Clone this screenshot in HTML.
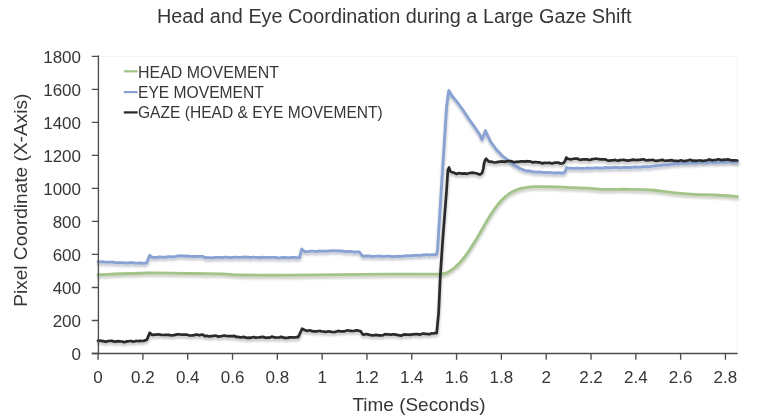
<!DOCTYPE html>
<html><head><meta charset="utf-8"><style>
html,body{margin:0;padding:0;background:#fff;overflow:hidden;width:768px;height:419px;}
svg{display:block;will-change:transform;}
text{font-family:"Liberation Sans",sans-serif;fill:#363636;}
.tk{font-size:17px;}
.ti{font-size:20px;}
.at{font-size:19px;}
.lg{font-size:15.6px;}
</style></head><body>
<svg width="768" height="419" viewBox="0 0 768 419">
<defs><filter id="blur" x="-5%" y="-20%" width="110%" height="140%"><feGaussianBlur stdDeviation="1.2"/></filter></defs>
<rect width="768" height="419" fill="#fff"/>
<path d="M98,56.3 H737.5 V353.5" fill="none" stroke="#f4f4f4" stroke-width="1"/>
<path d="M98.00,274.70 C106.17,274.42 130.83,273.20 147.00,273.00 C163.17,272.80 182.50,273.37 195.00,273.50 C207.50,273.63 214.17,273.55 222.00,273.80 C229.83,274.05 230.67,274.77 242.00,275.00 C253.33,275.23 266.17,275.35 290.00,275.20 C313.83,275.05 360.83,274.28 385.00,274.10 C409.17,273.92 425.58,274.15 435.00,274.10 C444.42,274.05 439.67,273.97 441.50,273.80 C443.33,273.63 444.75,273.46 446.00,273.08 C447.25,272.69 448.00,272.08 449.00,271.49 C450.00,270.90 451.00,270.25 452.00,269.54 C453.00,268.83 454.00,268.05 455.00,267.20 C456.00,266.35 457.00,265.44 458.00,264.45 C459.00,263.46 460.00,262.39 461.00,261.26 C462.00,260.13 463.00,258.93 464.00,257.66 C465.00,256.39 466.00,255.05 467.00,253.65 C468.00,252.25 469.00,250.79 470.00,249.28 C471.00,247.77 472.00,246.20 473.00,244.60 C474.00,243.00 475.00,241.36 476.00,239.70 C477.00,238.04 478.00,236.37 479.00,234.66 C480.00,232.95 481.00,231.19 482.00,229.44 C483.00,227.69 484.00,225.89 485.00,224.16 C486.00,222.43 487.00,220.71 488.00,219.05 C489.00,217.39 490.00,215.76 491.00,214.20 C492.00,212.64 493.00,211.13 494.00,209.70 C495.00,208.27 496.00,206.90 497.00,205.61 C498.00,204.32 499.00,203.10 500.00,201.97 C501.00,200.84 502.00,199.78 503.00,198.80 C504.00,197.82 505.00,196.93 506.00,196.10 C507.00,195.27 508.00,194.53 509.00,193.84 C510.00,193.16 511.00,192.55 512.00,191.99 C513.00,191.44 514.00,190.95 515.00,190.51 C516.00,190.07 517.00,189.70 518.00,189.36 C519.00,189.02 520.00,188.73 521.00,188.47 C522.00,188.21 523.00,187.99 524.00,187.80 C525.00,187.61 526.00,187.45 527.00,187.31 C528.00,187.17 529.00,187.06 530.00,186.96 C531.00,186.86 531.88,186.75 533.00,186.71 C534.12,186.67 534.70,186.72 536.70,186.70 C538.70,186.68 541.33,186.57 545.00,186.60 C548.67,186.63 554.03,186.73 558.70,186.90 C563.37,187.07 568.23,187.38 573.00,187.60 C577.77,187.82 582.53,187.92 587.30,188.20 C592.07,188.48 596.82,189.12 601.60,189.30 C606.38,189.48 611.27,189.30 616.00,189.30 C620.73,189.30 624.08,189.18 630.00,189.30 C635.92,189.42 644.33,189.45 651.50,190.00 C658.67,190.55 665.83,191.88 673.00,192.60 C680.17,193.32 687.33,193.90 694.50,194.30 C701.67,194.70 708.87,194.63 716.00,195.00 C723.13,195.37 733.75,196.25 737.30,196.50" fill="none" stroke="#7d8a70" stroke-width="3.5" stroke-linejoin="round" stroke-linecap="round" transform="translate(0.3,2.3)" filter="url(#blur)" opacity="0.38"/>
<polyline points="98.0,261.7 99.5,261.9 101.1,261.8 102.6,261.6 104.1,261.9 105.7,262.1 107.2,262.1 108.7,262.2 110.3,262.1 111.8,261.9 113.3,262.2 114.9,262.5 116.4,262.6 117.9,262.7 119.5,262.6 121.0,262.6 122.5,262.6 124.1,262.8 125.7,262.8 127.2,262.9 128.8,262.8 130.3,262.5 131.8,262.6 133.4,262.9 135.0,263.0 136.5,263.1 138.1,263.1 139.6,262.9 141.2,263.0 142.7,263.3 144.2,263.2 145.8,263.2 147.0,262.0 149.7,255.2 152.3,257.4 153.9,257.3 155.5,257.4 157.1,257.3 158.7,256.9 160.3,257.0 161.9,257.2 163.4,257.2 165.0,257.2 166.6,257.0 168.2,256.7 169.8,256.7 171.4,256.8 173.0,256.7 174.6,256.6 176.2,256.3 177.8,255.8 179.4,255.8 181.0,255.7 182.6,255.8 184.1,256.1 185.7,256.0 187.2,255.9 188.8,256.1 190.3,256.3 191.9,256.4 193.4,256.5 195.0,256.5 196.6,256.3 198.2,256.3 199.8,256.3 201.4,256.3 203.0,256.3 205.0,257.6 206.5,257.5 208.1,257.6 209.6,257.6 211.2,257.7 212.7,257.8 214.2,257.5 215.8,257.3 217.3,257.4 218.9,257.4 220.4,257.5 222.0,257.6 223.5,257.3 225.0,257.1 226.6,257.2 228.1,257.3 229.7,257.4 231.2,257.6 232.8,257.4 234.3,257.2 235.8,257.2 237.4,257.3 238.9,257.3 240.5,257.3 242.0,257.2 243.5,257.1 245.0,257.0 246.5,257.1 248.0,257.2 249.5,257.4 251.0,257.5 252.5,257.2 254.0,257.2 255.5,257.3 257.0,257.3 258.5,257.5 260.0,257.7 261.5,257.4 263.0,257.2 264.5,257.3 266.0,257.3 267.5,257.4 269.0,257.6 270.5,257.4 272.0,257.2 273.5,257.3 275.0,257.4 276.5,257.5 278.0,257.8 279.5,257.8 281.0,257.5 282.5,257.5 284.0,257.5 285.5,257.5 287.0,257.7 288.5,257.7 290.0,257.6 291.6,257.5 293.2,257.4 294.8,257.4 296.3,257.7 297.9,257.7 299.5,257.6 301.7,249.0 304.5,251.5 306.0,251.6 307.5,251.7 309.0,251.3 310.5,251.2 312.0,251.2 313.5,251.1 315.0,251.3 316.5,251.5 318.0,251.2 319.5,251.0 321.0,251.1 322.5,251.1 324.0,251.1 325.5,251.2 327.0,251.2 328.5,250.9 330.0,250.8 331.5,250.7 333.0,250.7 334.5,250.7 336.1,250.8 337.6,250.7 339.2,250.8 340.8,250.8 342.3,251.0 343.9,251.4 345.4,251.5 347.0,251.3 348.6,251.4 350.1,251.5 351.7,251.5 353.2,251.9 354.8,252.0 356.4,251.8 357.9,251.9 359.5,252.0 362.5,256.0 364.0,256.1 365.5,256.0 367.0,256.0 368.5,256.0 370.0,256.0 371.5,256.3 373.0,256.5 374.5,256.3 376.0,256.2 377.5,256.1 379.0,256.0 380.5,256.2 382.0,256.4 383.5,256.3 385.0,256.3 386.6,256.2 388.2,256.1 389.8,256.2 391.4,256.6 392.9,256.5 394.5,256.3 396.1,256.3 397.7,256.2 399.3,256.3 400.9,256.3 402.5,256.2 404.0,256.0 405.6,255.8 407.2,255.6 408.8,255.7 410.4,255.9 411.9,255.7 413.5,255.5 415.1,255.4 416.7,255.2 418.3,255.3 419.8,255.5 421.4,255.2 423.0,255.0 424.5,254.9 426.0,254.7 427.5,254.7 429.0,255.0 430.5,254.9 432.0,254.7 433.5,254.7 435.0,254.6 436.5,254.7 437.6,249.0 442.2,175.0 446.6,106.5 448.8,90.4 452.2,96.3 456.9,101.7 462.9,110.0 468.9,119.0 474.8,127.3 479.6,134.2 481.9,139.5 485.5,130.5 488.0,136.5 490.5,141.5 496.5,149.8 502.4,155.8 507.2,159.6 514.4,165.3 520.0,168.5 521.7,169.0 523.3,169.9 525.0,170.5 526.6,170.8 528.2,171.0 529.9,171.0 531.5,171.4 533.1,171.8 534.7,171.9 536.4,172.1 538.1,172.0 539.9,171.9 541.6,172.3 543.3,172.4 545.0,172.5 546.5,172.6 548.1,172.4 549.6,172.4 551.2,172.7 552.7,172.9 554.2,172.9 555.8,173.0 557.3,172.8 558.9,172.7 560.4,173.0 562.0,173.0 563.5,173.0 564.8,172.0 566.6,167.6 567.8,168.2 569.3,168.1 570.8,168.2 572.3,168.3 573.9,168.4 575.4,168.3 576.9,168.0 578.4,168.1 579.9,168.4 581.5,168.3 583.0,168.4 584.5,168.3 586.0,168.2 587.5,168.0 589.1,168.1 590.6,168.1 592.1,168.1 593.6,168.1 595.2,167.8 596.7,167.7 598.2,168.0 599.8,168.0 601.3,168.0 602.8,168.1 604.4,167.7 605.9,167.5 607.4,167.7 608.9,167.7 610.5,167.7 612.0,167.6 613.5,167.5 615.1,167.2 616.6,167.4 618.1,167.5 619.6,167.6 621.2,167.7 622.7,167.5 624.2,167.2 625.8,167.4 627.3,167.5 628.8,167.4 630.4,167.5 631.9,167.4 633.4,167.0 634.9,167.0 636.5,167.2 638.0,167.2 639.6,167.2 641.2,167.1 642.9,166.6 644.5,166.7 646.1,166.7 647.8,166.6 649.4,166.6 651.0,166.3 652.5,166.1 654.0,165.9 655.5,165.8 657.0,165.7 658.5,165.6 660.0,165.4 661.6,165.1 663.3,164.9 664.9,164.8 666.5,164.7 668.2,164.8 669.8,164.5 671.4,164.0 673.1,164.0 674.7,163.8 676.2,163.8 677.8,163.9 679.4,163.6 680.9,163.2 682.5,163.2 684.0,163.2 685.6,163.3 687.1,163.4 688.6,163.2 690.2,162.9 691.8,162.9 693.3,162.9 694.9,162.9 696.4,163.1 698.0,162.8 699.5,162.6 701.0,162.5 702.6,162.4 704.1,162.4 705.7,162.6 707.2,162.5 708.8,162.2 710.4,162.2 711.9,162.3 713.4,162.3 715.0,162.6 716.5,162.5 718.1,162.2 719.6,162.1 721.2,162.1 722.8,162.1 724.3,162.1 725.9,162.2 727.5,161.9 729.2,161.9 730.8,161.9 732.4,162.0 734.0,162.3 735.7,162.2 737.3,162.1" fill="none" stroke="#707a90" stroke-width="3.5" stroke-linejoin="round" stroke-linecap="round" transform="translate(0.3,2.3)" filter="url(#blur)" opacity="0.38"/>
<polyline points="98.0,340.6 99.7,340.7 101.3,340.9 103.0,341.1 104.5,341.4 106.0,341.8 107.5,341.2 109.0,341.0 110.5,340.9 112.0,340.8 113.5,341.4 115.0,341.8 116.5,341.3 118.0,341.1 119.5,341.3 121.0,341.5 122.5,341.5 124.0,342.2 125.5,341.9 127.0,341.4 128.5,341.3 130.0,341.0 131.5,341.0 133.0,341.7 134.5,341.5 136.0,340.9 137.5,341.0 139.0,341.1 140.5,340.7 142.0,341.0 143.5,340.9 145.0,340.4 147.0,339.6 149.7,332.8 151.8,334.6 153.5,334.9 155.1,334.6 156.8,334.6 158.4,334.2 160.0,334.7 161.7,334.9 163.4,335.0 165.0,334.9 166.7,334.9 168.3,334.9 170.0,335.2 171.7,335.5 173.5,335.2 175.2,334.9 176.9,334.4 178.7,334.4 180.4,334.5 181.9,334.7 183.4,334.6 184.9,334.7 186.5,334.5 188.0,335.0 189.5,335.4 191.1,335.5 192.8,335.3 194.4,335.2 196.0,334.6 197.6,334.7 199.2,335.3 200.9,334.8 202.5,334.5 205.0,336.1 206.5,335.7 208.0,336.1 209.5,336.4 211.0,336.1 212.5,336.1 214.0,335.8 215.5,335.5 217.0,336.1 218.5,336.6 220.0,336.3 221.5,336.1 223.0,335.8 224.5,335.5 226.0,335.8 227.7,336.1 229.3,336.2 231.0,336.2 232.7,336.2 234.4,335.9 236.0,336.8 237.7,336.9 239.3,337.2 240.9,337.4 242.6,337.1 244.2,336.9 245.8,337.7 247.4,337.9 249.1,337.7 250.7,337.8 252.4,337.3 254.1,337.0 255.8,337.7 257.6,337.5 259.3,337.4 261.0,337.1 262.5,336.9 264.1,337.2 265.6,337.8 267.2,337.6 268.7,337.6 270.3,337.3 271.8,336.7 273.4,337.0 274.9,337.6 276.5,337.5 278.0,337.5 279.6,337.4 281.2,336.9 282.9,337.4 284.5,337.9 286.1,337.8 287.8,337.9 289.4,337.4 291.0,337.4 292.8,337.4 294.6,337.5 296.4,337.2 298.2,337.1 302.1,328.7 305.4,330.4 307.1,330.8 308.7,330.5 310.4,330.4 312.0,331.2 313.7,331.4 315.3,331.3 317.0,331.3 318.6,331.0 320.2,330.9 321.9,331.5 323.5,331.5 325.1,331.8 326.8,331.6 328.4,331.3 330.0,331.7 331.6,331.9 333.2,332.0 334.9,332.1 336.5,331.5 338.1,330.9 339.8,331.3 341.4,331.4 343.0,331.3 344.6,331.3 346.2,330.7 347.9,330.3 349.5,330.8 351.1,330.9 352.8,331.0 354.4,330.8 356.0,330.4 357.5,330.4 359.0,330.9 360.5,331.0 362.8,334.5 364.5,334.6 366.1,334.0 367.8,334.4 369.5,334.9 371.2,335.1 372.8,335.3 374.5,335.2 376.0,334.9 377.5,335.1 379.0,335.3 380.5,335.3 382.0,335.5 383.5,334.9 385.0,334.1 386.5,334.3 388.0,334.5 389.5,334.4 391.0,334.7 392.5,334.4 394.0,334.3 396.0,334.6 398.0,335.2 399.6,335.3 401.1,335.7 402.7,335.0 404.2,334.4 405.8,334.7 407.4,334.7 408.9,334.7 410.5,334.9 412.0,334.3 413.6,334.3 415.2,334.1 416.8,334.0 418.5,334.3 420.1,334.6 421.7,333.9 423.3,333.5 424.9,333.9 426.5,333.9 428.1,334.1 429.8,334.2 431.4,333.4 433.0,333.5 434.9,333.1 436.7,333.0 438.7,311.8 440.3,275.9 442.7,240.0 446.6,190.0 447.9,169.8 449.0,167.5 450.2,171.1 451.5,172.0 454.1,172.7 456.7,174.0 459.3,173.0 461.9,173.7 464.5,173.3 467.1,173.8 469.7,173.0 472.3,172.7 474.9,173.0 477.6,173.7 479.8,174.6 482.1,173.0 483.4,168.5 484.1,163.3 485.0,160.5 486.1,158.6 488.8,161.6 490.4,161.6 492.1,161.8 493.7,162.3 495.4,162.5 497.0,162.2 498.5,161.9 500.0,161.7 501.5,161.4 503.0,161.6 504.5,161.9 506.0,161.4 507.5,161.2 509.0,161.1 510.5,161.1 512.0,161.4 513.5,162.2 515.0,162.2 516.5,161.7 518.0,161.8 519.6,161.6 521.2,161.4 522.8,161.3 524.5,161.6 526.1,161.2 527.8,161.3 529.5,161.3 531.2,161.8 532.8,162.4 534.5,162.2 536.1,162.2 537.8,162.3 539.4,162.3 541.0,162.9 542.7,163.4 544.3,162.9 546.0,162.8 547.6,163.0 549.2,162.7 550.8,163.1 552.4,163.4 554.0,162.8 555.5,162.7 557.1,162.7 558.7,162.7 560.3,163.5 561.9,163.4 563.5,163.0 565.0,161.0 566.3,157.6 568.0,158.9 569.5,159.0 571.0,159.5 572.5,159.0 574.0,158.7 575.5,158.7 577.0,158.6 578.5,159.1 580.0,159.8 581.5,159.6 583.0,159.3 584.5,159.4 586.0,159.4 587.6,159.4 589.2,160.0 590.9,159.6 592.5,159.1 594.1,159.0 595.8,158.5 597.4,159.0 599.0,159.1 600.6,159.3 602.2,159.3 603.9,159.4 605.5,159.4 607.1,160.2 608.8,160.8 610.4,160.4 612.0,160.4 613.6,160.2 615.2,159.9 616.9,160.5 618.5,160.6 620.1,160.1 621.8,160.0 623.4,159.9 625.0,160.2 626.6,160.4 628.2,160.6 629.9,160.2 631.5,160.1 633.1,159.6 634.8,159.8 636.4,160.2 638.0,159.8 639.5,159.8 641.0,159.7 642.5,159.3 644.0,159.4 645.5,160.2 647.0,160.3 648.5,160.1 650.0,160.1 651.5,160.0 653.1,159.8 654.6,160.7 656.2,160.9 657.7,160.6 659.3,160.5 660.8,160.1 662.4,159.8 663.9,160.5 665.4,160.8 667.0,160.5 668.5,160.6 670.1,160.3 671.6,160.1 673.2,160.8 674.7,160.8 676.2,160.9 677.8,161.1 679.4,160.7 680.9,160.3 682.5,160.8 684.0,161.1 685.6,160.8 687.1,160.7 688.6,160.3 690.2,159.8 691.8,160.4 693.3,160.9 694.9,160.7 696.4,160.8 698.0,160.5 699.5,160.5 701.0,160.4 702.6,161.0 704.1,160.7 705.7,160.5 707.2,160.2 708.8,159.5 710.4,159.7 711.9,160.3 713.4,160.1 715.0,160.0 716.5,159.8 718.1,159.2 719.6,159.5 721.2,160.2 722.8,159.9 724.3,159.6 725.9,159.8 727.5,159.4 729.2,159.7 730.8,160.3 732.4,160.3 734.0,160.4 735.7,160.3 737.3,160.5" fill="none" stroke="#777" stroke-width="3.5" stroke-linejoin="round" stroke-linecap="round" transform="translate(0.3,2.3)" filter="url(#blur)" opacity="0.38"/>
<path d="M98.00,274.70 C106.17,274.42 130.83,273.20 147.00,273.00 C163.17,272.80 182.50,273.37 195.00,273.50 C207.50,273.63 214.17,273.55 222.00,273.80 C229.83,274.05 230.67,274.77 242.00,275.00 C253.33,275.23 266.17,275.35 290.00,275.20 C313.83,275.05 360.83,274.28 385.00,274.10 C409.17,273.92 425.58,274.15 435.00,274.10 C444.42,274.05 439.67,273.97 441.50,273.80 C443.33,273.63 444.75,273.46 446.00,273.08 C447.25,272.69 448.00,272.08 449.00,271.49 C450.00,270.90 451.00,270.25 452.00,269.54 C453.00,268.83 454.00,268.05 455.00,267.20 C456.00,266.35 457.00,265.44 458.00,264.45 C459.00,263.46 460.00,262.39 461.00,261.26 C462.00,260.13 463.00,258.93 464.00,257.66 C465.00,256.39 466.00,255.05 467.00,253.65 C468.00,252.25 469.00,250.79 470.00,249.28 C471.00,247.77 472.00,246.20 473.00,244.60 C474.00,243.00 475.00,241.36 476.00,239.70 C477.00,238.04 478.00,236.37 479.00,234.66 C480.00,232.95 481.00,231.19 482.00,229.44 C483.00,227.69 484.00,225.89 485.00,224.16 C486.00,222.43 487.00,220.71 488.00,219.05 C489.00,217.39 490.00,215.76 491.00,214.20 C492.00,212.64 493.00,211.13 494.00,209.70 C495.00,208.27 496.00,206.90 497.00,205.61 C498.00,204.32 499.00,203.10 500.00,201.97 C501.00,200.84 502.00,199.78 503.00,198.80 C504.00,197.82 505.00,196.93 506.00,196.10 C507.00,195.27 508.00,194.53 509.00,193.84 C510.00,193.16 511.00,192.55 512.00,191.99 C513.00,191.44 514.00,190.95 515.00,190.51 C516.00,190.07 517.00,189.70 518.00,189.36 C519.00,189.02 520.00,188.73 521.00,188.47 C522.00,188.21 523.00,187.99 524.00,187.80 C525.00,187.61 526.00,187.45 527.00,187.31 C528.00,187.17 529.00,187.06 530.00,186.96 C531.00,186.86 531.88,186.75 533.00,186.71 C534.12,186.67 534.70,186.72 536.70,186.70 C538.70,186.68 541.33,186.57 545.00,186.60 C548.67,186.63 554.03,186.73 558.70,186.90 C563.37,187.07 568.23,187.38 573.00,187.60 C577.77,187.82 582.53,187.92 587.30,188.20 C592.07,188.48 596.82,189.12 601.60,189.30 C606.38,189.48 611.27,189.30 616.00,189.30 C620.73,189.30 624.08,189.18 630.00,189.30 C635.92,189.42 644.33,189.45 651.50,190.00 C658.67,190.55 665.83,191.88 673.00,192.60 C680.17,193.32 687.33,193.90 694.50,194.30 C701.67,194.70 708.87,194.63 716.00,195.00 C723.13,195.37 733.75,196.25 737.30,196.50" fill="none" stroke="#A3C488" stroke-width="2.8" stroke-linejoin="round" stroke-linecap="round"/>
<polyline points="98.0,261.7 99.5,261.9 101.1,261.8 102.6,261.6 104.1,261.9 105.7,262.1 107.2,262.1 108.7,262.2 110.3,262.1 111.8,261.9 113.3,262.2 114.9,262.5 116.4,262.6 117.9,262.7 119.5,262.6 121.0,262.6 122.5,262.6 124.1,262.8 125.7,262.8 127.2,262.9 128.8,262.8 130.3,262.5 131.8,262.6 133.4,262.9 135.0,263.0 136.5,263.1 138.1,263.1 139.6,262.9 141.2,263.0 142.7,263.3 144.2,263.2 145.8,263.2 147.0,262.0 149.7,255.2 152.3,257.4 153.9,257.3 155.5,257.4 157.1,257.3 158.7,256.9 160.3,257.0 161.9,257.2 163.4,257.2 165.0,257.2 166.6,257.0 168.2,256.7 169.8,256.7 171.4,256.8 173.0,256.7 174.6,256.6 176.2,256.3 177.8,255.8 179.4,255.8 181.0,255.7 182.6,255.8 184.1,256.1 185.7,256.0 187.2,255.9 188.8,256.1 190.3,256.3 191.9,256.4 193.4,256.5 195.0,256.5 196.6,256.3 198.2,256.3 199.8,256.3 201.4,256.3 203.0,256.3 205.0,257.6 206.5,257.5 208.1,257.6 209.6,257.6 211.2,257.7 212.7,257.8 214.2,257.5 215.8,257.3 217.3,257.4 218.9,257.4 220.4,257.5 222.0,257.6 223.5,257.3 225.0,257.1 226.6,257.2 228.1,257.3 229.7,257.4 231.2,257.6 232.8,257.4 234.3,257.2 235.8,257.2 237.4,257.3 238.9,257.3 240.5,257.3 242.0,257.2 243.5,257.1 245.0,257.0 246.5,257.1 248.0,257.2 249.5,257.4 251.0,257.5 252.5,257.2 254.0,257.2 255.5,257.3 257.0,257.3 258.5,257.5 260.0,257.7 261.5,257.4 263.0,257.2 264.5,257.3 266.0,257.3 267.5,257.4 269.0,257.6 270.5,257.4 272.0,257.2 273.5,257.3 275.0,257.4 276.5,257.5 278.0,257.8 279.5,257.8 281.0,257.5 282.5,257.5 284.0,257.5 285.5,257.5 287.0,257.7 288.5,257.7 290.0,257.6 291.6,257.5 293.2,257.4 294.8,257.4 296.3,257.7 297.9,257.7 299.5,257.6 301.7,249.0 304.5,251.5 306.0,251.6 307.5,251.7 309.0,251.3 310.5,251.2 312.0,251.2 313.5,251.1 315.0,251.3 316.5,251.5 318.0,251.2 319.5,251.0 321.0,251.1 322.5,251.1 324.0,251.1 325.5,251.2 327.0,251.2 328.5,250.9 330.0,250.8 331.5,250.7 333.0,250.7 334.5,250.7 336.1,250.8 337.6,250.7 339.2,250.8 340.8,250.8 342.3,251.0 343.9,251.4 345.4,251.5 347.0,251.3 348.6,251.4 350.1,251.5 351.7,251.5 353.2,251.9 354.8,252.0 356.4,251.8 357.9,251.9 359.5,252.0 362.5,256.0 364.0,256.1 365.5,256.0 367.0,256.0 368.5,256.0 370.0,256.0 371.5,256.3 373.0,256.5 374.5,256.3 376.0,256.2 377.5,256.1 379.0,256.0 380.5,256.2 382.0,256.4 383.5,256.3 385.0,256.3 386.6,256.2 388.2,256.1 389.8,256.2 391.4,256.6 392.9,256.5 394.5,256.3 396.1,256.3 397.7,256.2 399.3,256.3 400.9,256.3 402.5,256.2 404.0,256.0 405.6,255.8 407.2,255.6 408.8,255.7 410.4,255.9 411.9,255.7 413.5,255.5 415.1,255.4 416.7,255.2 418.3,255.3 419.8,255.5 421.4,255.2 423.0,255.0 424.5,254.9 426.0,254.7 427.5,254.7 429.0,255.0 430.5,254.9 432.0,254.7 433.5,254.7 435.0,254.6 436.5,254.7 437.6,249.0 442.2,175.0 446.6,106.5 448.8,90.4 452.2,96.3 456.9,101.7 462.9,110.0 468.9,119.0 474.8,127.3 479.6,134.2 481.9,139.5 485.5,130.5 488.0,136.5 490.5,141.5 496.5,149.8 502.4,155.8 507.2,159.6 514.4,165.3 520.0,168.5 521.7,169.0 523.3,169.9 525.0,170.5 526.6,170.8 528.2,171.0 529.9,171.0 531.5,171.4 533.1,171.8 534.7,171.9 536.4,172.1 538.1,172.0 539.9,171.9 541.6,172.3 543.3,172.4 545.0,172.5 546.5,172.6 548.1,172.4 549.6,172.4 551.2,172.7 552.7,172.9 554.2,172.9 555.8,173.0 557.3,172.8 558.9,172.7 560.4,173.0 562.0,173.0 563.5,173.0 564.8,172.0 566.6,167.6 567.8,168.2 569.3,168.1 570.8,168.2 572.3,168.3 573.9,168.4 575.4,168.3 576.9,168.0 578.4,168.1 579.9,168.4 581.5,168.3 583.0,168.4 584.5,168.3 586.0,168.2 587.5,168.0 589.1,168.1 590.6,168.1 592.1,168.1 593.6,168.1 595.2,167.8 596.7,167.7 598.2,168.0 599.8,168.0 601.3,168.0 602.8,168.1 604.4,167.7 605.9,167.5 607.4,167.7 608.9,167.7 610.5,167.7 612.0,167.6 613.5,167.5 615.1,167.2 616.6,167.4 618.1,167.5 619.6,167.6 621.2,167.7 622.7,167.5 624.2,167.2 625.8,167.4 627.3,167.5 628.8,167.4 630.4,167.5 631.9,167.4 633.4,167.0 634.9,167.0 636.5,167.2 638.0,167.2 639.6,167.2 641.2,167.1 642.9,166.6 644.5,166.7 646.1,166.7 647.8,166.6 649.4,166.6 651.0,166.3 652.5,166.1 654.0,165.9 655.5,165.8 657.0,165.7 658.5,165.6 660.0,165.4 661.6,165.1 663.3,164.9 664.9,164.8 666.5,164.7 668.2,164.8 669.8,164.5 671.4,164.0 673.1,164.0 674.7,163.8 676.2,163.8 677.8,163.9 679.4,163.6 680.9,163.2 682.5,163.2 684.0,163.2 685.6,163.3 687.1,163.4 688.6,163.2 690.2,162.9 691.8,162.9 693.3,162.9 694.9,162.9 696.4,163.1 698.0,162.8 699.5,162.6 701.0,162.5 702.6,162.4 704.1,162.4 705.7,162.6 707.2,162.5 708.8,162.2 710.4,162.2 711.9,162.3 713.4,162.3 715.0,162.6 716.5,162.5 718.1,162.2 719.6,162.1 721.2,162.1 722.8,162.1 724.3,162.1 725.9,162.2 727.5,161.9 729.2,161.9 730.8,161.9 732.4,162.0 734.0,162.3 735.7,162.2 737.3,162.1" fill="none" stroke="#88A2D3" stroke-width="2.8" stroke-linejoin="round" stroke-linecap="round"/>
<polyline points="98.0,340.6 99.7,340.7 101.3,340.9 103.0,341.1 104.5,341.4 106.0,341.8 107.5,341.2 109.0,341.0 110.5,340.9 112.0,340.8 113.5,341.4 115.0,341.8 116.5,341.3 118.0,341.1 119.5,341.3 121.0,341.5 122.5,341.5 124.0,342.2 125.5,341.9 127.0,341.4 128.5,341.3 130.0,341.0 131.5,341.0 133.0,341.7 134.5,341.5 136.0,340.9 137.5,341.0 139.0,341.1 140.5,340.7 142.0,341.0 143.5,340.9 145.0,340.4 147.0,339.6 149.7,332.8 151.8,334.6 153.5,334.9 155.1,334.6 156.8,334.6 158.4,334.2 160.0,334.7 161.7,334.9 163.4,335.0 165.0,334.9 166.7,334.9 168.3,334.9 170.0,335.2 171.7,335.5 173.5,335.2 175.2,334.9 176.9,334.4 178.7,334.4 180.4,334.5 181.9,334.7 183.4,334.6 184.9,334.7 186.5,334.5 188.0,335.0 189.5,335.4 191.1,335.5 192.8,335.3 194.4,335.2 196.0,334.6 197.6,334.7 199.2,335.3 200.9,334.8 202.5,334.5 205.0,336.1 206.5,335.7 208.0,336.1 209.5,336.4 211.0,336.1 212.5,336.1 214.0,335.8 215.5,335.5 217.0,336.1 218.5,336.6 220.0,336.3 221.5,336.1 223.0,335.8 224.5,335.5 226.0,335.8 227.7,336.1 229.3,336.2 231.0,336.2 232.7,336.2 234.4,335.9 236.0,336.8 237.7,336.9 239.3,337.2 240.9,337.4 242.6,337.1 244.2,336.9 245.8,337.7 247.4,337.9 249.1,337.7 250.7,337.8 252.4,337.3 254.1,337.0 255.8,337.7 257.6,337.5 259.3,337.4 261.0,337.1 262.5,336.9 264.1,337.2 265.6,337.8 267.2,337.6 268.7,337.6 270.3,337.3 271.8,336.7 273.4,337.0 274.9,337.6 276.5,337.5 278.0,337.5 279.6,337.4 281.2,336.9 282.9,337.4 284.5,337.9 286.1,337.8 287.8,337.9 289.4,337.4 291.0,337.4 292.8,337.4 294.6,337.5 296.4,337.2 298.2,337.1 302.1,328.7 305.4,330.4 307.1,330.8 308.7,330.5 310.4,330.4 312.0,331.2 313.7,331.4 315.3,331.3 317.0,331.3 318.6,331.0 320.2,330.9 321.9,331.5 323.5,331.5 325.1,331.8 326.8,331.6 328.4,331.3 330.0,331.7 331.6,331.9 333.2,332.0 334.9,332.1 336.5,331.5 338.1,330.9 339.8,331.3 341.4,331.4 343.0,331.3 344.6,331.3 346.2,330.7 347.9,330.3 349.5,330.8 351.1,330.9 352.8,331.0 354.4,330.8 356.0,330.4 357.5,330.4 359.0,330.9 360.5,331.0 362.8,334.5 364.5,334.6 366.1,334.0 367.8,334.4 369.5,334.9 371.2,335.1 372.8,335.3 374.5,335.2 376.0,334.9 377.5,335.1 379.0,335.3 380.5,335.3 382.0,335.5 383.5,334.9 385.0,334.1 386.5,334.3 388.0,334.5 389.5,334.4 391.0,334.7 392.5,334.4 394.0,334.3 396.0,334.6 398.0,335.2 399.6,335.3 401.1,335.7 402.7,335.0 404.2,334.4 405.8,334.7 407.4,334.7 408.9,334.7 410.5,334.9 412.0,334.3 413.6,334.3 415.2,334.1 416.8,334.0 418.5,334.3 420.1,334.6 421.7,333.9 423.3,333.5 424.9,333.9 426.5,333.9 428.1,334.1 429.8,334.2 431.4,333.4 433.0,333.5 434.9,333.1 436.7,333.0 438.7,311.8 440.3,275.9 442.7,240.0 446.6,190.0 447.9,169.8 449.0,167.5 450.2,171.1 451.5,172.0 454.1,172.7 456.7,174.0 459.3,173.0 461.9,173.7 464.5,173.3 467.1,173.8 469.7,173.0 472.3,172.7 474.9,173.0 477.6,173.7 479.8,174.6 482.1,173.0 483.4,168.5 484.1,163.3 485.0,160.5 486.1,158.6 488.8,161.6 490.4,161.6 492.1,161.8 493.7,162.3 495.4,162.5 497.0,162.2 498.5,161.9 500.0,161.7 501.5,161.4 503.0,161.6 504.5,161.9 506.0,161.4 507.5,161.2 509.0,161.1 510.5,161.1 512.0,161.4 513.5,162.2 515.0,162.2 516.5,161.7 518.0,161.8 519.6,161.6 521.2,161.4 522.8,161.3 524.5,161.6 526.1,161.2 527.8,161.3 529.5,161.3 531.2,161.8 532.8,162.4 534.5,162.2 536.1,162.2 537.8,162.3 539.4,162.3 541.0,162.9 542.7,163.4 544.3,162.9 546.0,162.8 547.6,163.0 549.2,162.7 550.8,163.1 552.4,163.4 554.0,162.8 555.5,162.7 557.1,162.7 558.7,162.7 560.3,163.5 561.9,163.4 563.5,163.0 565.0,161.0 566.3,157.6 568.0,158.9 569.5,159.0 571.0,159.5 572.5,159.0 574.0,158.7 575.5,158.7 577.0,158.6 578.5,159.1 580.0,159.8 581.5,159.6 583.0,159.3 584.5,159.4 586.0,159.4 587.6,159.4 589.2,160.0 590.9,159.6 592.5,159.1 594.1,159.0 595.8,158.5 597.4,159.0 599.0,159.1 600.6,159.3 602.2,159.3 603.9,159.4 605.5,159.4 607.1,160.2 608.8,160.8 610.4,160.4 612.0,160.4 613.6,160.2 615.2,159.9 616.9,160.5 618.5,160.6 620.1,160.1 621.8,160.0 623.4,159.9 625.0,160.2 626.6,160.4 628.2,160.6 629.9,160.2 631.5,160.1 633.1,159.6 634.8,159.8 636.4,160.2 638.0,159.8 639.5,159.8 641.0,159.7 642.5,159.3 644.0,159.4 645.5,160.2 647.0,160.3 648.5,160.1 650.0,160.1 651.5,160.0 653.1,159.8 654.6,160.7 656.2,160.9 657.7,160.6 659.3,160.5 660.8,160.1 662.4,159.8 663.9,160.5 665.4,160.8 667.0,160.5 668.5,160.6 670.1,160.3 671.6,160.1 673.2,160.8 674.7,160.8 676.2,160.9 677.8,161.1 679.4,160.7 680.9,160.3 682.5,160.8 684.0,161.1 685.6,160.8 687.1,160.7 688.6,160.3 690.2,159.8 691.8,160.4 693.3,160.9 694.9,160.7 696.4,160.8 698.0,160.5 699.5,160.5 701.0,160.4 702.6,161.0 704.1,160.7 705.7,160.5 707.2,160.2 708.8,159.5 710.4,159.7 711.9,160.3 713.4,160.1 715.0,160.0 716.5,159.8 718.1,159.2 719.6,159.5 721.2,160.2 722.8,159.9 724.3,159.6 725.9,159.8 727.5,159.4 729.2,159.7 730.8,160.3 732.4,160.3 734.0,160.4 735.7,160.3 737.3,160.5" fill="none" stroke="#2a2a2a" stroke-width="2.7" stroke-linejoin="round" stroke-linecap="round"/>
<path d="M98.4,55.6 V353.5 M91.8,353.5 H737.6" stroke="#4d4d4d" stroke-width="1.35" fill="none"/>
<path d="M91.8,353.50 H98.4 M91.8,320.48 H98.4 M91.8,287.46 H98.4 M91.8,254.43 H98.4 M91.8,221.41 H98.4 M91.8,188.39 H98.4 M91.8,155.37 H98.4 M91.8,122.34 H98.4 M91.8,89.32 H98.4 M91.8,56.30 H98.4 M98.10,353.5 V359.8 M142.91,353.5 V359.8 M187.72,353.5 V359.8 M232.53,353.5 V359.8 M277.34,353.5 V359.8 M322.15,353.5 V359.8 M366.96,353.5 V359.8 M411.77,353.5 V359.8 M456.58,353.5 V359.8 M501.39,353.5 V359.8 M546.20,353.5 V359.8 M591.01,353.5 V359.8 M635.82,353.5 V359.8 M680.63,353.5 V359.8 M725.44,353.5 V359.8" stroke="#4d4d4d" stroke-width="1.35" fill="none"/>
<text x="81" y="359.70" text-anchor="end" class="tk">0</text>
<text x="81" y="326.68" text-anchor="end" class="tk">200</text>
<text x="81" y="293.66" text-anchor="end" class="tk">400</text>
<text x="81" y="260.63" text-anchor="end" class="tk">600</text>
<text x="81" y="227.61" text-anchor="end" class="tk">800</text>
<text x="81" y="194.59" text-anchor="end" class="tk">1000</text>
<text x="81" y="161.57" text-anchor="end" class="tk">1200</text>
<text x="81" y="128.54" text-anchor="end" class="tk">1400</text>
<text x="81" y="95.52" text-anchor="end" class="tk">1600</text>
<text x="81" y="62.50" text-anchor="end" class="tk">1800</text>
<text x="98.10" y="383.3" text-anchor="middle" class="tk">0</text>
<text x="142.91" y="383.3" text-anchor="middle" class="tk">0.2</text>
<text x="187.72" y="383.3" text-anchor="middle" class="tk">0.4</text>
<text x="232.53" y="383.3" text-anchor="middle" class="tk">0.6</text>
<text x="277.34" y="383.3" text-anchor="middle" class="tk">0.8</text>
<text x="322.15" y="383.3" text-anchor="middle" class="tk">1</text>
<text x="366.96" y="383.3" text-anchor="middle" class="tk">1.2</text>
<text x="411.77" y="383.3" text-anchor="middle" class="tk">1.4</text>
<text x="456.58" y="383.3" text-anchor="middle" class="tk">1.6</text>
<text x="501.39" y="383.3" text-anchor="middle" class="tk">1.8</text>
<text x="546.20" y="383.3" text-anchor="middle" class="tk">2</text>
<text x="591.01" y="383.3" text-anchor="middle" class="tk">2.2</text>
<text x="635.82" y="383.3" text-anchor="middle" class="tk">2.4</text>
<text x="680.63" y="383.3" text-anchor="middle" class="tk">2.6</text>
<text x="725.44" y="383.3" text-anchor="middle" class="tk">2.8</text>
<text x="157" y="22.8" class="ti" textLength="474.5" lengthAdjust="spacingAndGlyphs">Head and Eye Coordination during a Large Gaze Shift</text>
<text x="352.5" y="411.3" class="at" textLength="133" lengthAdjust="spacingAndGlyphs">Time (Seconds)</text>
<text transform="translate(26.9,306.8) rotate(-90)" class="at" textLength="213.2" lengthAdjust="spacingAndGlyphs">Pixel Coordinate (X-Axis)</text>
<path d="M123.8,71.3 H137.6" stroke="#A3C488" stroke-width="2.2"/>
<text x="138" y="78.0" class="lg" textLength="141.0" lengthAdjust="spacingAndGlyphs">HEAD MOVEMENT</text>
<path d="M123.8,92.1 H137.6" stroke="#88A2D3" stroke-width="2.2"/>
<text x="138" y="98.3" class="lg" textLength="125.8" lengthAdjust="spacingAndGlyphs">EYE MOVEMENT</text>
<path d="M123.8,112.4 H137.6" stroke="#262626" stroke-width="2.2"/>
<text x="138" y="118.3" class="lg" textLength="244.79999999999998" lengthAdjust="spacingAndGlyphs">GAZE (HEAD &amp; EYE MOVEMENT)</text>
</svg>
</body></html>
